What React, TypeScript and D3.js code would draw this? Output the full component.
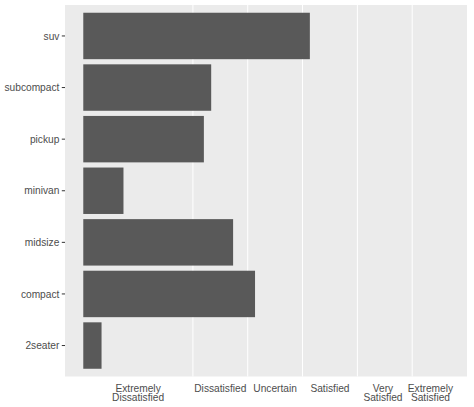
import React, { useEffect } from "react";
import * as d3 from "d3";

// counts per vehicle class
const classes = ["2seater", "compact", "midsize", "minivan", "pickup", "subcompact", "suv"];
const counts = [5, 47, 41, 11, 33, 35, 62];

// x axis labels and where they sit
const tickLabels = [
  ["Extremely", "Dissatisfied"],
  ["Dissatisfied"],
  ["Uncertain"],
  ["Satisfied"],
  ["Very", "Satisfied"],
  ["Extremely", "Satisfied"],
];
const tickValues = [15, 37.5, 52.5, 67.5, 82, 95];
const minorBreaks = [30, 45, 60, 75, 90];

const W = 474;
const H = 407;
const panel = { left: 65, right: 467, top: 5, bottom: 376.5 };

const FONT = "'Liberation Sans', Arial, sans-serif";

export default function App() {
  useEffect(() => {
    document.body.style.margin = "0";
  }, []);

  const x = d3.scaleLinear().domain([-5, 105]).range([panel.left, panel.right]);
  // discrete scale with ggplot-like 0.6 expansion
  const y = d3
    .scaleLinear()
    .domain([0.4, classes.length + 0.6])
    .range([panel.bottom, panel.top]);
  const barH = y(0) - y(0.9);

  return (
    <svg width={W} height={H} style={{ display: "block" }}>
      <rect width={W} height={H} fill="#ffffff" />
      <rect
        x={panel.left}
        y={panel.top}
        width={panel.right - panel.left}
        height={panel.bottom - panel.top}
        fill="#EBEBEB"
      />
      {minorBreaks.map((b) => (
        <line
          key={b}
          x1={x(b)}
          x2={x(b)}
          y1={panel.top}
          y2={panel.bottom}
          stroke="#ffffff"
          strokeWidth={1}
        />
      ))}
      {classes.map((c, i) => (
        <rect
          key={c}
          x={x(0)}
          y={y(i + 1) - barH / 2}
          width={x(counts[i]) - x(0)}
          height={barH}
          fill="#595959"
        />
      ))}
      {/* y axis */}
      {classes.map((c, i) => (
        <g key={c}>
          <line
            x1={panel.left - 3.2}
            x2={panel.left}
            y1={y(i + 1)}
            y2={y(i + 1)}
            stroke="#333333"
            strokeWidth={1}
          />
          <text
            x={panel.left - 5.6}
            y={y(i + 1)}
            dy="0.36em"
            textAnchor="end"
            fontFamily={FONT}
            fontSize={10.2}
            fill="#4D4D4D"
          >
            {c}
          </text>
        </g>
      ))}
      {/* x axis labels, no ticks */}
      {tickValues.map((v, i) => (
        <text
          key={v}
          x={x(v)}
          y={391.5}
          textAnchor="middle"
          fontFamily={FONT}
          fontSize={10.2}
          fill="#4D4D4D"
        >
          {tickLabels[i].map((ln, j) => (
            <tspan key={j} x={x(v)} dy={j === 0 ? 0 : 9.6}>
              {ln}
            </tspan>
          ))}
        </text>
      ))}
    </svg>
  );
}
